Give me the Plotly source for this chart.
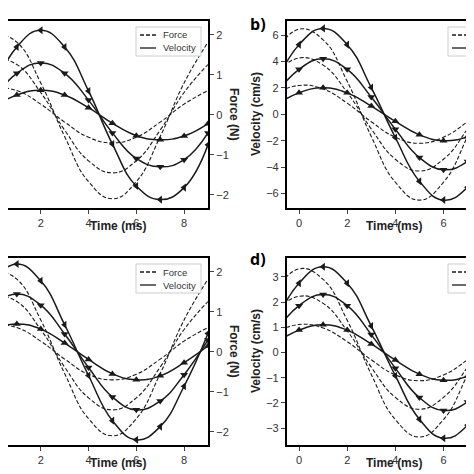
import plotly.graph_objects as go

# time samples (ms)
t_left = [0, 1, 2, 3, 4, 5, 6, 7, 8, 9]
t_right = [-1, 0, 1, 2, 3, 4, 5, 6, 7, 8]

# panel a (Force units, N)
a_force = [[2.08, 1.82, 0.80, -0.54, -1.67, -2.1, -1.67, -0.54, 0.80, 1.82],
           [1.44, 1.26, 0.56, -0.38, -1.15, -1.45, -1.15, -0.38, 0.56, 1.26],
           [0.69, 0.61, 0.27, -0.18, -0.56, -0.7, -0.56, -0.18, 0.27, 0.61]]
a_vel = [[0.6, 1.7, 2.12, 1.7, 0.6, -0.73, -1.78, -2.12, -1.82, -0.75],
         [0.37, 1.04, 1.3, 1.04, 0.37, -0.45, -1.09, -1.3, -1.12, -0.45],
         [0.18, 0.5, 0.62, 0.5, 0.18, -0.21, -0.52, -0.62, -0.53, -0.22]]
# panel c
c_force = a_force
c_vel = [[1.78, 2.2, 1.78, 0.68, -0.59, -1.72, -2.2, -1.87, -0.86, 0.46],
         [1.17, 1.45, 1.17, 0.45, -0.39, -1.13, -1.45, -1.23, -0.57, 0.30],
         [0.57, 0.7, 0.57, 0.22, -0.19, -0.55, -0.7, -0.6, -0.27, 0.15]]
# panel b (Velocity units, cm/s)
b_force = [[4.6, 6.44, 5.63, 2.49, -1.68, -5.15, -6.5, -5.15, -1.68, 2.49],
           [3.04, 4.26, 3.72, 1.65, -1.11, -3.41, -4.3, -3.41, -1.11, 1.65],
           [1.56, 2.18, 1.91, 0.84, -0.57, -1.74, -2.2, -1.74, -0.57, 0.84]]
b_vel = [[2.15, 5.27, 6.5, 5.27, 2.02, -1.76, -5.07, -6.5, -5.53, -2.54],
         [1.39, 3.40, 4.2, 3.40, 1.30, -1.13, -3.28, -4.2, -3.57, -1.64],
         [0.66, 1.62, 2.0, 1.62, 0.62, -0.54, -1.56, -2.0, -1.7, -0.78]]
# panel d
d_force = [[2.37, 3.32, 2.90, 1.28, -0.87, -2.66, -3.35, -2.66, -0.87, 1.28],
           [1.59, 2.23, 1.95, 0.86, -0.58, -1.78, -2.25, -1.78, -0.58, 0.86],
           [0.79, 1.11, 0.97, 0.43, -0.29, -0.89, -1.12, -0.89, -0.29, 0.43]]
d_vel = [[1.12, 2.75, 3.4, 2.75, 1.05, -0.92, -2.65, -3.4, -2.89, -1.33],
         [0.76, 1.86, 2.3, 1.86, 0.71, -0.62, -1.79, -2.3, -1.96, -0.90],
         [0.36, 0.89, 1.1, 0.89, 0.34, -0.30, -0.86, -1.1, -0.94, -0.43]]

markers = ["triangle-left", "triangle-down", "triangle-up"]
ink = "#1a1a1a"

fig = go.Figure()
panels = [(t_left, a_force, a_vel, "x", "y"), (t_right, b_force, b_vel, "x2", "y2"),
          (t_left, c_force, c_vel, "x3", "y3"), (t_right, d_force, d_vel, "x4", "y4")]
for t, frc, vel, xa, ya in panels:
    for f in frc:
        fig.add_trace(go.Scatter(x=t, y=f, xaxis=xa, yaxis=ya, mode="lines",
                                 line=dict(color=ink, width=1.1, dash="4px,2px",
                                           shape="spline", smoothing=1.3)))
    for v, m in zip(vel, markers):
        fig.add_trace(go.Scatter(x=t, y=v, xaxis=xa, yaxis=ya, mode="lines+markers",
                                 line=dict(color=ink, width=1.5, shape="spline", smoothing=1.3),
                                 marker=dict(symbol=m, size=7, color=ink)))

W = 474.0
def px(p):
    return p / W
def py(p):
    return 1 - p / W

tickf = dict(family="Liberation Sans, Arial", size=11, color="#333")
xcommon = dict(showline=True, mirror=True, linewidth=2.2, linecolor="black", ticks="outside",
               ticklen=4, tickfont=tickf, showgrid=False, zeroline=False, dtick=2)
ycommon = dict(showline=True, linewidth=2.2, linecolor="black", ticks="outside", ticklen=4,
               tickfont=tickf, showgrid=False, zeroline=False)

top = [py(200), py(13)]
bot = [py(437), py(250)]
ldom = [0, px(200)]
rdom = [px(279), 1]

fig.update_layout(
    width=474, height=474, margin=dict(l=0, r=0, t=0, b=0), showlegend=False,
    plot_bgcolor="white", paper_bgcolor="white",
    xaxis=dict(xcommon, domain=ldom, range=[0.63, 9.0], anchor="y"),
    yaxis=dict(ycommon, domain=top, range=[-2.33, 2.35], side="right", anchor="x", dtick=1),
    xaxis2=dict(xcommon, domain=rdom, range=[-0.5, 7.6], anchor="y2"),
    yaxis2=dict(ycommon, domain=top, range=[-7.1, 7.06], anchor="x2", dtick=2),
    xaxis3=dict(xcommon, domain=ldom, range=[0.63, 9.0], anchor="y3"),
    yaxis3=dict(ycommon, domain=bot, range=[-2.33, 2.35], side="right", anchor="x3", dtick=1),
    xaxis4=dict(xcommon, domain=rdom, range=[-0.5, 7.6], anchor="y4"),
    yaxis4=dict(ycommon, domain=bot, range=[-3.67, 3.75], anchor="x4", dtick=1),
)

ann = []
shapes = []
labfont = dict(family="Liberation Sans, Arial", size=12, color="#222")
for yc in (106, 343):
    ann.append(dict(text="<b>Force (N)</b>", x=px(226), y=py(yc), xref="paper", yref="paper",
                    textangle=90, xanchor="center", yanchor="middle", showarrow=False,
                    font=labfont))
    ann.append(dict(text="<b>Velocity (cm/s)</b>", x=px(248), y=py(yc), xref="paper",
                    yref="paper", textangle=-90, xanchor="center", yanchor="middle",
                    showarrow=False, font=labfont))
for xc, yc in [(110, 218), (386, 218), (110, 455), (386, 455)]:
    ann.append(dict(text="<b>Time (ms)</b>", x=px(xc), y=py(yc), xref="paper", yref="paper",
                    xanchor="center", yanchor="middle", showarrow=False, font=labfont))
ann.append(dict(text="<b>b)</b>", x=px(250), y=py(16), xref="paper", yref="paper",
                xanchor="center", yanchor="middle", showarrow=False,
                font=dict(size=16, color="black")))
ann.append(dict(text="<b>d)</b>", x=px(250), y=py(251), xref="paper", yref="paper",
                xanchor="center", yanchor="middle", showarrow=False,
                font=dict(size=16, color="black")))

# legend boxes drawn by hand (partly out of the frame on the right panels)
for lx, ly in [(128, 19), (128, 256), (440, 19), (440, 256)]:
    shapes.append(dict(type="rect", xref="paper", yref="paper", x0=px(lx), x1=px(lx + 65),
                       y0=py(ly + 29), y1=py(ly), line=dict(color="#ccc", width=1),
                       fillcolor="white", layer="above"))
    for i, (name, dash) in enumerate([("Force", "4px,2px"), ("Velocity", "solid")]):
        yy = ly + 8 + i * 13
        shapes.append(dict(type="line", xref="paper", yref="paper", x0=px(lx + 4), x1=px(lx + 20),
                           y0=py(yy), y1=py(yy), line=dict(color=ink, width=1.3, dash=dash),
                           layer="above"))
        ann.append(dict(text=name, x=px(lx + 25), y=py(yy), xref="paper", yref="paper",
                        xanchor="left", yanchor="middle", showarrow=False,
                        font=dict(family="Liberation Sans, Arial", size=9.5, color="#333")))

fig.update_layout(annotations=ann, shapes=shapes)
fig.write_html("out.html")
